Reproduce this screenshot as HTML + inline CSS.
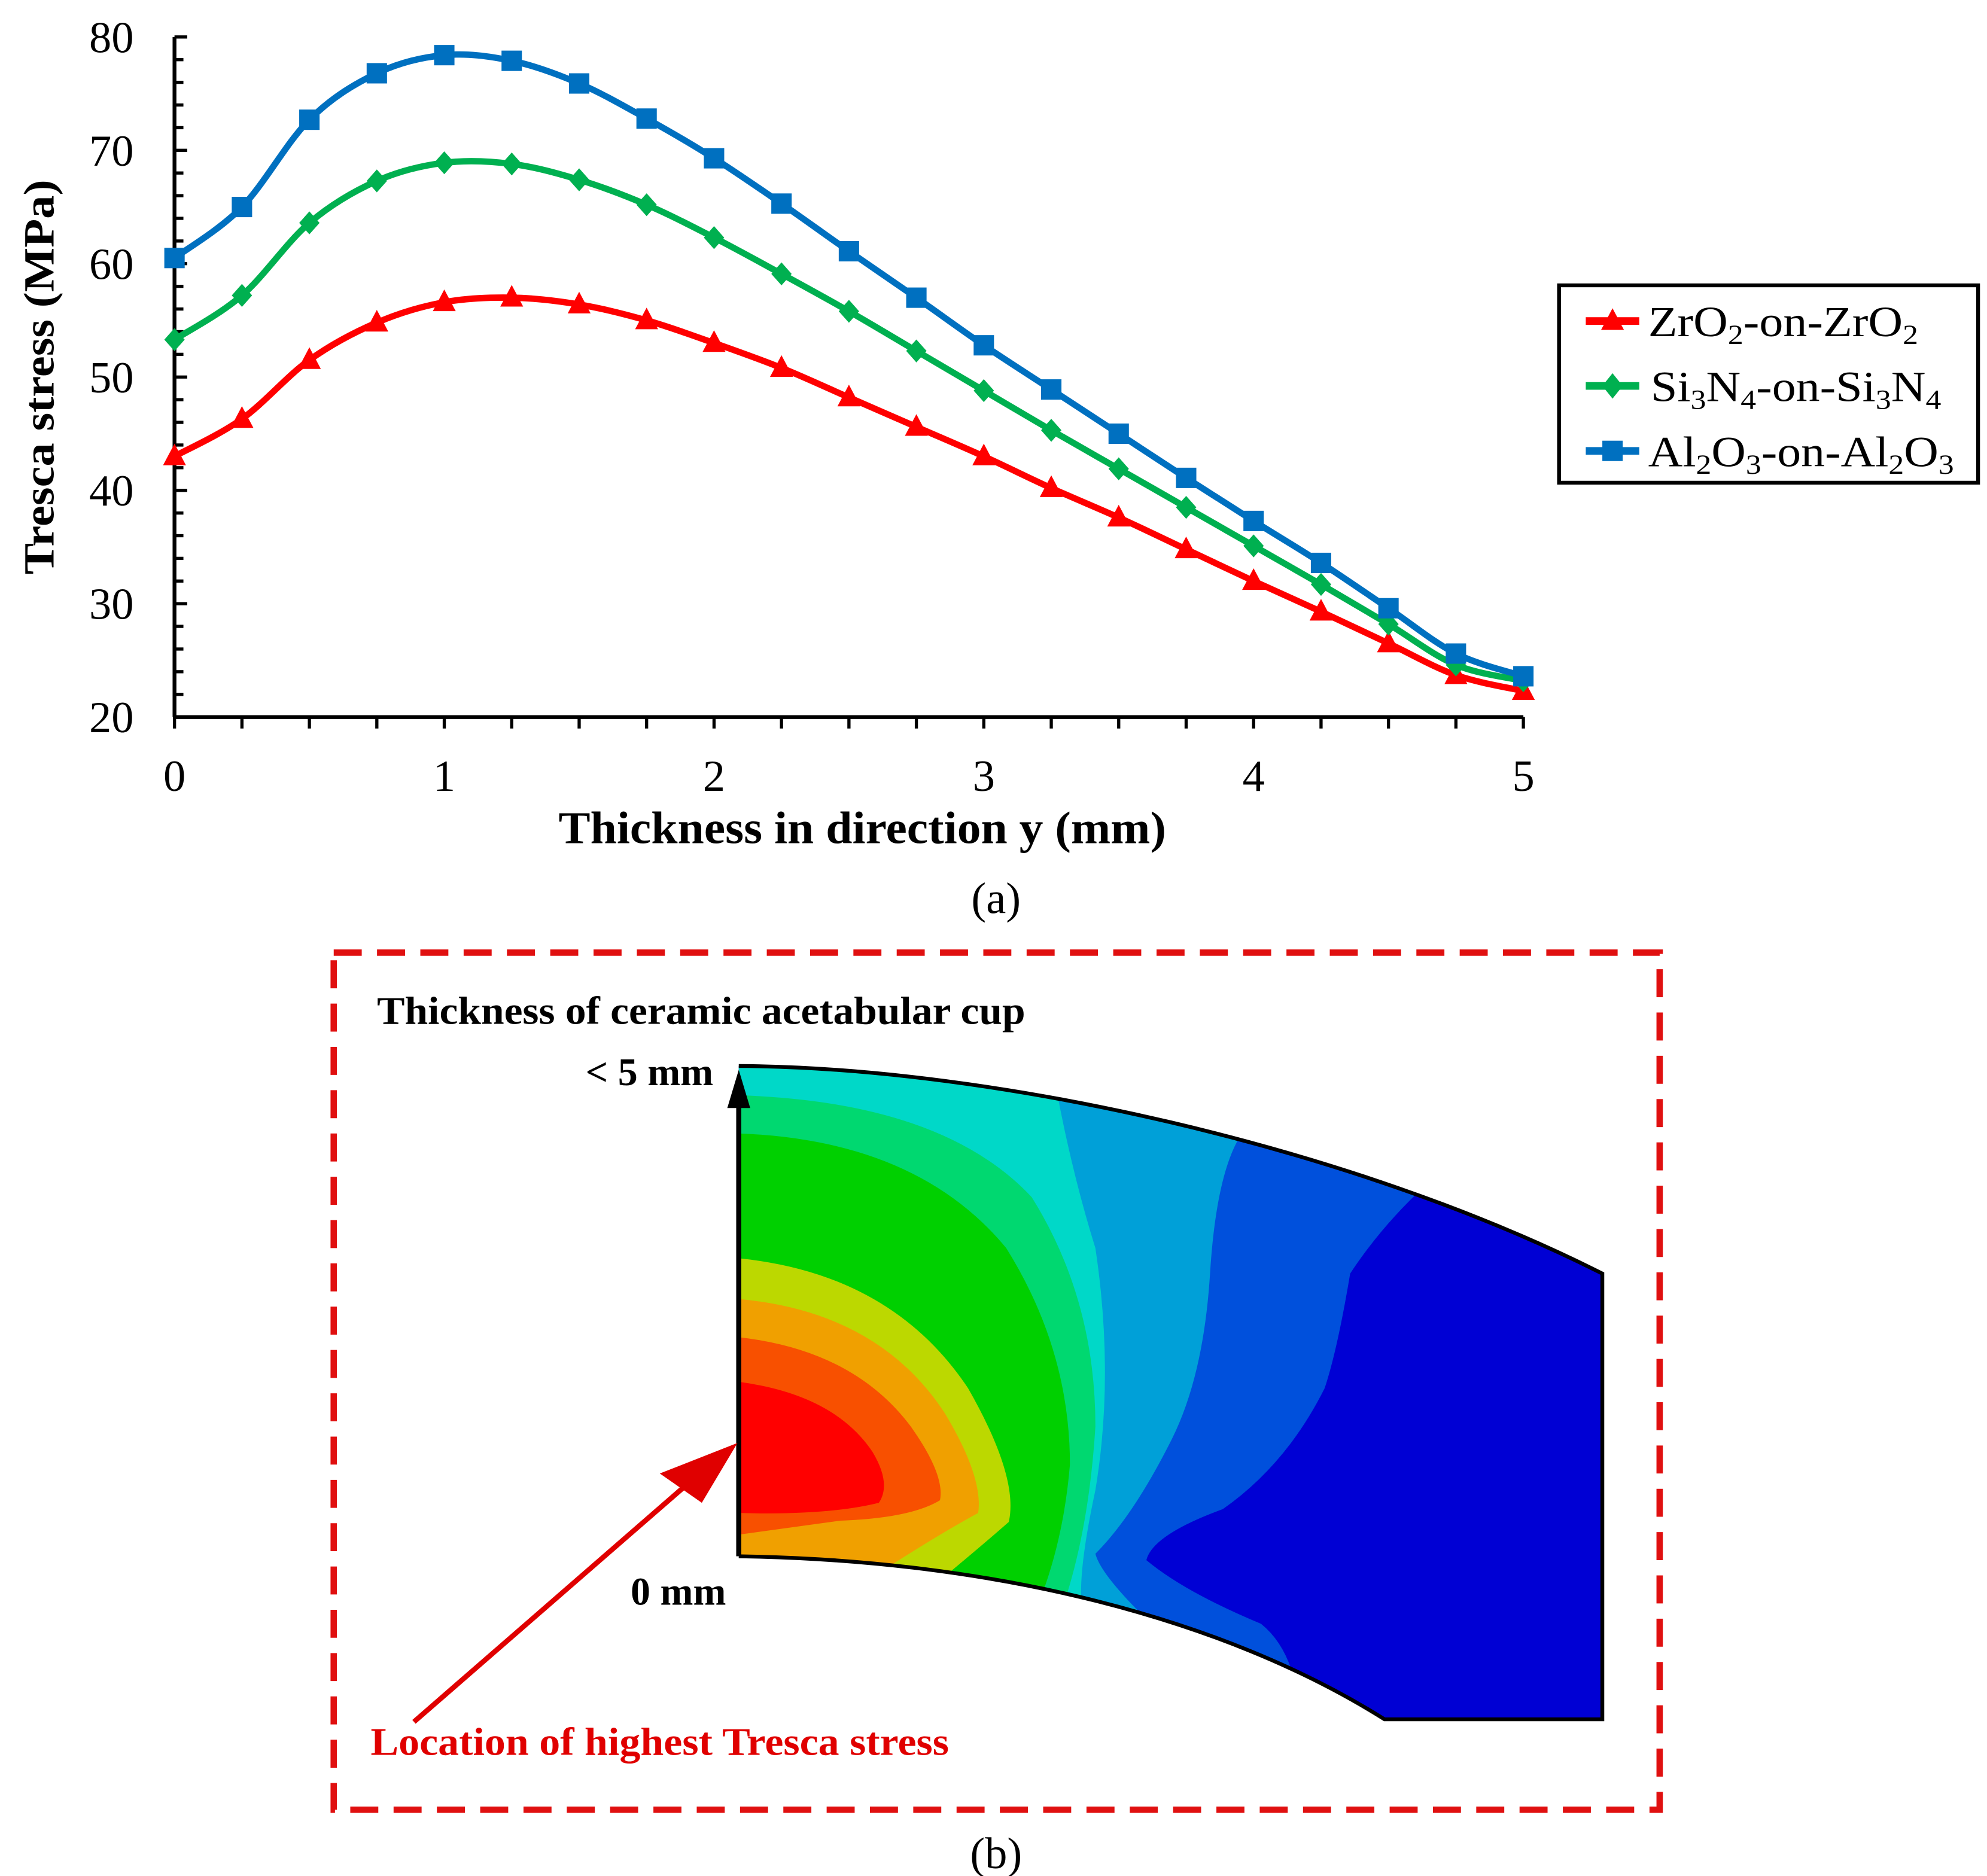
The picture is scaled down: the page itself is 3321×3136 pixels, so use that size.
<!DOCTYPE html>
<html><head><meta charset="utf-8"><style>
html,body{margin:0;padding:0;background:#fff;}
svg{display:block;}
text{font-family:"Liberation Serif",serif;}
</style></head><body>
<svg id="fig" width="3321" height="3136" viewBox="0 0 1560 1473" xmlns="http://www.w3.org/2000/svg">
<g id="chart"></g>
<g id="legend">
<rect x="1224" y="224" width="329" height="155" fill="#fff" stroke="#000" stroke-width="3"/>
<g>
<line x1="1245" y1="252" x2="1287" y2="252" stroke="#ff0000" stroke-width="6"/>
<polygon points="1266,242 1275,259 1257,259" fill="#ff0000"/>
<text x="1294" y="264" font-size="34" textLength="212" lengthAdjust="spacingAndGlyphs">ZrO<tspan font-size="22" dy="6">2</tspan><tspan dy="-6">-on-ZrO</tspan><tspan font-size="22" dy="6">2</tspan></text>
</g>
<g>
<line x1="1245" y1="303" x2="1287" y2="303" stroke="#00b050" stroke-width="6"/>
<polygon points="1266,293 1274,303 1266,313 1258,303" fill="#00b050"/>
<text x="1296" y="315" font-size="34" textLength="228" lengthAdjust="spacingAndGlyphs">Si<tspan font-size="22" dy="6">3</tspan><tspan dy="-6">N</tspan><tspan font-size="22" dy="6">4</tspan><tspan dy="-6">-on-Si</tspan><tspan font-size="22" dy="6">3</tspan><tspan dy="-6">N</tspan><tspan font-size="22" dy="6">4</tspan></text>
</g>
<g>
<line x1="1245" y1="354" x2="1287" y2="354" stroke="#0070c0" stroke-width="6"/>
<rect x="1258" y="346" width="16" height="16" fill="#0070c0"/>
<text x="1294" y="366" font-size="34" textLength="240" lengthAdjust="spacingAndGlyphs">Al<tspan font-size="22" dy="6">2</tspan><tspan dy="-6">O</tspan><tspan font-size="22" dy="6">3</tspan><tspan dy="-6">-on-Al</tspan><tspan font-size="22" dy="6">2</tspan><tspan dy="-6">O</tspan><tspan font-size="22" dy="6">3</tspan></text>
</g>
</g>
<text x="677" y="662" font-size="36" font-weight="bold" text-anchor="middle" textLength="477" lengthAdjust="spacingAndGlyphs">Thickness in direction y (mm)</text>
<text transform="translate(42,296) rotate(-90)" font-size="34" font-weight="bold" text-anchor="middle" textLength="310" lengthAdjust="spacingAndGlyphs">Tresca stress (MPa)</text>
<text x="782" y="717" font-size="35" text-anchor="middle">(a)</text>

<rect x="262" y="748" width="1041" height="673" fill="none" stroke="#e01010" stroke-width="5" stroke-dasharray="22 12"/>
<text x="296" y="804" font-size="31" font-weight="bold" textLength="509" lengthAdjust="spacingAndGlyphs">Thickness of ceramic acetabular cup</text>
<defs><clipPath id="cup"><path d="M580,837 C780,838 1060,900 1258,1000 L1258,1350 L1087,1350 C960,1270 780,1225 580,1222 Z"/></clipPath></defs>
<g clip-path="url(#cup)">
<rect x="560" y="820" width="720" height="560" fill="#0000d4"/>
<path d="M500,800 L1140,800 L1120,930 Q1085,962 1060,1000 Q1050,1060 1040,1090 Q1010,1150 960,1185 Q905,1205 900,1225 Q930,1250 990,1275 Q1015,1295 1020,1340 L500,1400 Z" fill="#0050dc"/>
<path d="M500,800 L990,800 L975,890 Q955,920 950,1000 Q945,1080 920,1130 Q890,1190 860,1220 Q865,1240 920,1290 L500,1400 Z" fill="#00a0d8"/>
<path d="M500,800 L820,800 Q835,900 860,980 Q875,1080 860,1170 Q845,1240 850,1265 L500,1400 Z" fill="#00d8c8"/>
<path d="M500,860 L580,860 Q740,865 810,940 Q860,1020 860,1120 Q855,1200 835,1260 L500,1400 Z" fill="#00d870"/>
<path d="M500,890 L580,890 Q720,895 790,980 Q840,1060 840,1150 Q835,1210 815,1260 L500,1400 Z" fill="#00d000"/>
<path d="M580,988 Q700,1000 760,1090 Q800,1160 792,1195 Q775,1210 745,1235 L580,1240 Z" fill="#bcd800"/>
<path d="M580,1020 Q690,1030 742,1110 Q772,1160 768,1188 Q740,1203 690,1235 L580,1240 Z" fill="#f0a000"/>
<path d="M580,1050 Q670,1060 715,1120 Q742,1158 738,1178 Q715,1192 660,1194 L580,1205 Z" fill="#f85000"/>
<path d="M580,1085 Q655,1095 685,1140 Q700,1165 690,1180 Q650,1190 580,1188 Z" fill="#ff0000"/>
</g>
<path d="M580,837 C780,838 1060,900 1258,1000 L1258,1350 L1087,1350 C960,1270 780,1225 580,1222" fill="none" stroke="#000" stroke-width="3"/>
<g>
<line x1="580" y1="1222" x2="580" y2="865" stroke="#000" stroke-width="4"/>
<polygon points="571,870 589,870 580,840" fill="#000"/>
</g>
<text x="560" y="852" font-size="31" font-weight="bold" text-anchor="end">&lt; 5 mm</text>
<text x="570" y="1260" font-size="31" font-weight="bold" text-anchor="end">0 mm</text>
<g>
<line x1="325" y1="1352" x2="540" y2="1165" stroke="#e00000" stroke-width="4"/>
<polygon points="518,1157 551,1180 579,1133" fill="#e00000"/>
</g>
<text x="291" y="1378" font-size="31" font-weight="bold" fill="#e00000" textLength="454" lengthAdjust="spacingAndGlyphs">Location of highest Tresca stress</text>
<text x="782" y="1467" font-size="35" text-anchor="middle">(b)</text>
</svg>
<script>
const xValues=[0,0.25,0.5,0.75,1,1.25,1.5,1.75,2,2.25,2.5,2.75,3,3.25,3.5,3.75,4,4.25,4.5,4.75,5];
const zro2=[43,46.3,51.5,54.8,56.6,57,56.4,55,53,50.8,48.2,45.6,43,40.2,37.6,34.8,32,29.3,26.5,23.7,22.3];
const si3n4=[53.3,57.2,63.6,67.3,68.9,68.8,67.4,65.2,62.3,59.1,55.8,52.3,48.8,45.3,41.9,38.5,35.1,31.7,28.2,24.6,23.2];
const al2o3=[60.5,65,72.7,76.8,78.4,77.9,75.9,72.8,69.3,65.3,61.1,57,52.8,48.9,45,41.1,37.3,33.6,29.6,25.6,23.6];
const yTicks=[20,30,40,50,60,70,80];
const xTicks=[0,1,2,3,4,5];
const NS="http://www.w3.org/2000/svg";
const X0=137,X1=1196,Y0=563,Y1=29;
function sx(v){return X0+(v-0)/(5-0)*(X1-X0);}
function sy(v){return Y0-(v-20)/(80-20)*(Y0-Y1);}
const g=document.getElementById('chart');
function mk(t,a){const e=document.createElementNS(NS,t);for(const k in a)e.setAttribute(k,a[k]);g.appendChild(e);return e;}
let ax=mk('line',{x1:X0,y1:Y1,x2:X0,y2:Y0,stroke:'#000','stroke-width':3});


let bx=mk('line',{x1:X0,y1:Y0,x2:X1,y2:Y0,stroke:'#000','stroke-width':3});


for(let v=20;v<=80;v+=2){const major=(v%10===0);const t=mk('line',{x1:X0,y1:sy(v),x2:X0+(major?10:7),y2:sy(v),stroke:'#000','stroke-width':2.5});

}
for(let v=0;v<=5.001;v+=0.25){const t=mk('line',{x1:sx(v),y1:Y0,x2:sx(v),y2:Y0+9,stroke:'#000','stroke-width':2.5});

}
yTicks.forEach(v=>{const t=mk('text',{x:105,y:sy(v)+12,'font-size':35,'text-anchor':'end'});t.textContent=v;

});
xTicks.forEach(v=>{const t=mk('text',{x:sx(v),y:621,'font-size':35,'text-anchor':'middle'});t.textContent=v;

});
function smooth(pts){let d='M'+pts[0][0]+','+pts[0][1];for(let i=0;i<pts.length-1;i++){const p0=pts[Math.max(0,i-1)],p1=pts[i],p2=pts[i+1],p3=pts[Math.min(pts.length-1,i+2)];
const c1=[p1[0]+(p2[0]-p0[0])/6,p1[1]+(p2[1]-p0[1])/6],c2=[p2[0]-(p3[0]-p1[0])/6,p2[1]-(p3[1]-p1[1])/6];
d+=' C'+c1+' '+c2+' '+p2;}return d;}
function series(vals,color,shape,name){
const pts=xValues.map((x,i)=>[sx(x),sy(vals[i])]);
const p=mk('path',{d:smooth(pts),fill:'none',stroke:color,'stroke-width':5});


pts.forEach(q=>{let m;const [x,y]=q;
if(shape==='tri')m=mk('polygon',{points:`${x},${y-10} ${x+9},${y+7} ${x-9},${y+7}`,fill:color});
else if(shape==='dia')m=mk('polygon',{points:`${x},${y-9} ${x+8},${y} ${x},${y+9} ${x-8},${y}`,fill:color});
else m=mk('rect',{x:x-8,y:y-8,width:16,height:16,fill:color});

});}
series(zro2,'#ff0000','tri','zro2');
series(si3n4,'#00b050','dia','si3n4');
series(al2o3,'#0070c0','sq','al2o3');
</script>
</body></html>
